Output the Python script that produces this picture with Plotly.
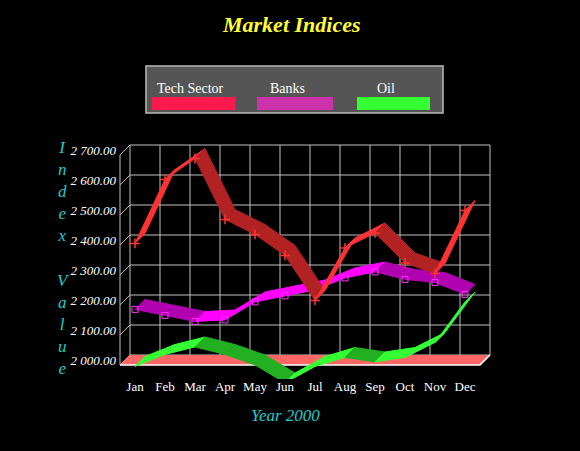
import plotly.graph_objects as go

months = ['Jan', 'Feb', 'Mar', 'Apr', 'May', 'Jun', 'Jul', 'Aug', 'Sep', 'Oct', 'Nov', 'Dec']
tech = [2405, 2618, 2688, 2485, 2435, 2365, 2215, 2390, 2440, 2340, 2305, 2515]
banks = [2185, 2165, 2145, 2150, 2210, 2230, 2250, 2290, 2310, 2285, 2275, 2235]
oil = [1995, 2035, 2060, 2035, 2000, 1940, 1995, 2025, 2010, 2025, 2075, 2210]
y_ticks = [2000, 2100, 2200, 2300, 2400, 2500, 2600, 2700]

# pseudo-3d depth offset (x in category cells, y in index units)
DX, DY = 1 / 3, 33
serif = 'Liberation Serif'

# plot area in pixels
L, R, T, B = 118, 493, 139, 379


def px(x, y):
    # pixel -> paper coords
    return (x - L) / (R - L), (B - y) / (B - T)


fig = go.Figure()

# back wall grid
for v in y_ticks:
    fig.add_shape(type='line', x0=0, x1=12, y0=v, y1=v, line=dict(color='#c0c0c0', width=1), layer='below')
    fig.add_shape(type='line', x0=-DX, x1=0, y0=v - DY, y1=v, line=dict(color='#c0c0c0', width=1), layer='below')
for i in range(13):
    fig.add_shape(type='line', x0=i, x1=i, y0=2000, y1=2700, line=dict(color='#c0c0c0', width=1), layer='below')
fig.add_shape(type='line', x0=-DX, x1=-DX, y0=2000 - DY, y1=2700 - DY, line=dict(color='#c0c0c0', width=1), layer='below')

# floor
fig.add_trace(go.Scatter(x=[-DX, 12 - DX, 12, 0, -DX], y=[2000 - DY, 2000 - DY, 2000, 2000, 2000 - DY],
                         fill='toself', fillcolor='#ff6666', line=dict(width=0), mode='lines',
                         hoverinfo='skip', showlegend=False))
fig.add_trace(go.Scatter(x=[-DX, 12 - DX, 12], y=[2000 - DY, 2000 - DY, 2000], mode='lines',
                         line=dict(color='white', width=1.5), hoverinfo='skip', showlegend=False))


def ribbon(vals, bright, dark, marker):
    for i in range(len(vals) - 1):
        a, b = vals[i], vals[i + 1]
        xf0, xf1 = i + 0.5 - DX, i + 1.5 - DX
        xs = [xf0, xf1, xf1 + DX, xf0 + DX, xf0]
        ys = [a - DY, b - DY, b, a, a - DY]
        col = bright if b > a else dark
        fig.add_trace(go.Scatter(x=xs, y=ys, fill='toself', fillcolor=col, mode='lines',
                                 line=dict(color=col, width=1), hoverinfo='skip', showlegend=False))
    if marker:
        fig.add_trace(go.Scatter(x=[i + 0.5 - DX for i in range(len(vals))], y=[v - DY for v in vals],
                                 mode='markers', marker=marker, cliponaxis=False,
                                 hoverinfo='skip', showlegend=False))


ribbon(oil, '#33ff33', '#22b022', None)
ribbon(banks, '#ff00ff', '#b000b0', dict(symbol='square-open', size=6, color='#ff33ff'))
ribbon(tech, '#ff3333', '#b22222', dict(symbol='cross-thin-open', size=7, color='#ff3333', line=dict(width=1.5, color='#ff3333')))

fig.update_xaxes(range=[-0.4, 12.1], showgrid=False, zeroline=False, showline=False,
                 tickvals=[i + 0.5 - DX for i in range(12)], ticktext=months, ticks='',
                 ticklabelstandoff=-2, tickfont=dict(family=serif, size=13, color='white'))
fig.update_yaxes(range=[1920, 2720], showgrid=False, zeroline=False, showline=False,
                 tickvals=[v - 17 for v in y_ticks], ticktext=[f'<i>2 {v - 2000:03d}.00</i>' for v in y_ticks],
                 ticks='', ticklabelstandoff=1, tickfont=dict(family=serif, size=13, color='white'))

ann = []
ann.append(dict(x=px(220, 25)[0], y=px(220, 25)[1], text='<b><i>Market Indices</i></b>', showarrow=False,
                font=dict(family=serif, size=22, color='#ffff33')))
ann.append(dict(x=px(285, 415)[0], y=px(285, 415)[1], text='<i>Year 2000</i>', showarrow=False,
                font=dict(family=serif, size=17, color='#22cccc')))
ann.append(dict(x=px(55, 258)[0], y=px(55, 258)[1], text='<i>I<br>n<br>d<br>e<br>x<br> <br>V<br>a<br>l<br>u<br>e</i>',
                showarrow=False, font=dict(family=serif, size=17, color='#22cccc')))

shapes = []
x0, y0 = px(146, 66)
x1, y1 = px(443, 113)
shapes.append(dict(type='rect', xref='paper', yref='paper', x0=x0, y0=y0, x1=x1, y1=y1,
                   fillcolor='#555555', line=dict(color='#bbbbbb', width=1.5)))
legend = [('Tech Sector', 155, 152, 235, '#ff1a4d'), ('Banks', 268, 257, 333, '#cc33aa'), ('Oil', 375, 357, 430, '#33ff33')]
for name, tx, sx0, sx1, col in legend:
    a0, b0 = px(sx0, 97)
    a1, b1 = px(sx1, 110)
    shapes.append(dict(type='rect', xref='paper', yref='paper', x0=a0, y0=b0, x1=a1, y1=b1,
                       fillcolor=col, line=dict(width=0)))
    ax_, ay_ = px(tx, 88)
    ann.append(dict(x=ax_, y=ay_, xanchor='left', text=name, showarrow=False,
                    font=dict(family=serif, size=14, color='white')))
for a in ann:
    a.setdefault('xref', 'paper')
    a.setdefault('yref', 'paper')
    a.setdefault('yanchor', 'middle')

fig.update_layout(width=580, height=451, paper_bgcolor='black', plot_bgcolor='black',
                  margin=dict(l=L, r=580 - R, t=T, b=451 - B), annotations=ann,
                  shapes=list(fig.layout.shapes) + shapes, showlegend=False)

fig.write_html('out.html', config={'displayModeBar': False},
               post_script="document.body.style.margin='0';document.body.style.background='black';")
